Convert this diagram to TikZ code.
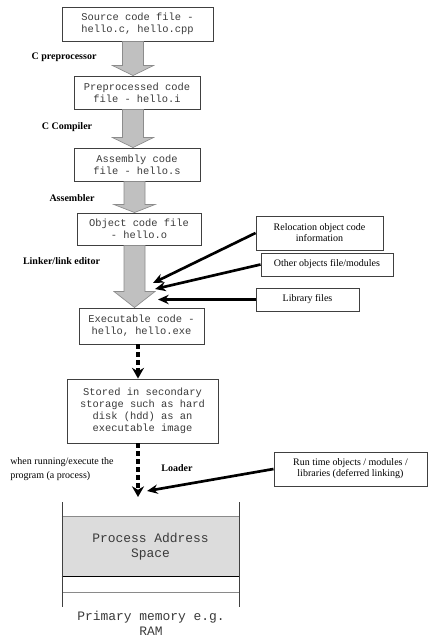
\documentclass[tikz,border=0pt]{standalone}
\usepackage{fontspec}
\setmainfont{Liberation Serif}
\setmonofont{Liberation Mono}
\definecolor{arrowGray}{HTML}{C0C0C0}
\definecolor{arrowEdge}{HTML}{8C8C8C}
\definecolor{spaceGray}{HTML}{DCDCDC}
\definecolor{lineGray}{HTML}{8A8A8A}
\definecolor{monoText}{HTML}{3A3A3A}
\usetikzlibrary{arrows.meta, positioning, calc}

% big gray block arrow: x, upper node, lower node, head length
\newcommand{\blockarrow}[4]{%
  \draw[bigarr] ($(#1,0 |- #2.south)+(-10.5,0)$) -- ($(#1,0 |- #3.north)+(-10.5,-#4)$) -- ++(-10,0)
    -- (#1,0 |- #3.north) -- ($(#1,0 |- #3.north)+(20.5,-#4)$) -- ++(-10,0)
    -- ($(#1,0 |- #2.south)+(10.5,0)$) -- cycle;}

\begin{document}
\begin{tikzpicture}[
    x=0.75pt, y=-0.75pt,
    box/.style={rectangle, draw=black!75, line width=0.7pt, align=center, inner sep=0pt, text=monoText, font=\ttfamily\fontsize{7.8}{9}\selectfont},
    note/.style={rectangle, draw=black!75, line width=0.7pt, align=center, inner sep=0pt, font=\fontsize{7.5}{8.25}\selectfont},
    lbl/.style={font=\bfseries\fontsize{7.5}{10}\selectfont},
    bigarr/.style={fill=arrowGray, draw=arrowEdge, line width=0.5pt},
    arr/.style={-{Stealth[length=8pt,width=7pt]}, line width=2pt},
    dotarr/.style={-{Stealth[length=8pt,width=9pt]}, line width=3.5pt, dash pattern=on 3.5pt off 2.5pt}
]
\useasboundingbox (0,0) rectangle (429,640);

% Compile chain
\node[box, minimum width=113.25pt, minimum height=25.5pt] (src) at (137.5,24) {Source code file -\\hello.c, hello.cpp};
\node[box, minimum width=94.5pt, minimum height=24.75pt] (pre) at (137,92.5) {Preprocessed code\\file - hello.i};
\node[box, minimum width=94.5pt, minimum height=24.75pt] (asm) at (137,164.5) {Assembly code\\file - hello.s};
\node[box, minimum width=93pt, minimum height=24pt] (obj) at (139,229) {Object code file\\ - hello.o};
\node[box, minimum width=93.75pt, minimum height=27pt] (exe) at (141.5,326) {Executable code -\\hello, hello.exe};
\node[box, minimum width=113.25pt, minimum height=48pt] (sto) at (142.5,411) {Stored in secondary\\storage such as hard\\disk (hdd) as an\\executable image};

% Block arrows
\blockarrow{133}{src}{pre}{10}
\blockarrow{133}{pre}{asm}{10}
\blockarrow{134.5}{asm}{obj}{8}
\blockarrow{134.5}{obj}{exe}{16}

% Stage labels
\node[lbl] (lpre) at (64,57) {C preprocessor};
\node[lbl] (lcc) at (67,127) {C Compiler};
\node[lbl] (las) at (72,198) {Assembler};
\node[lbl] (lld) at (61.5,261) {Linker/link editor};
\node[lbl] (lload) at (177,468) {Loader};
\node[font=\fontsize{7.5}{10.5}\selectfont, align=left, anchor=west, inner sep=0pt] (lrun) at (10,469) {when running/execute the\\program (a process)};

% Linker inputs
\node[note, minimum width=95.25pt, minimum height=25.5pt] (reloc) at (319.5,233) {Relocation object code\\information};
\node[note, minimum width=99pt, minimum height=17.25pt] (other) at (327,264.5) {Other objects file/modules};
\node[note, minimum width=77.25pt, minimum height=17.25pt] (lib) at (307.5,299.5) {Library files};
\node[note, minimum width=114.75pt, minimum height=25.5pt] (rt) at (350.5,469) {Run time objects / modules /\\libraries (deferred linking)};

\coordinate (treloc) at (153,283);
\coordinate (tother) at (155,289);
\coordinate (tlib) at (158,299.5);
\coordinate (tload) at (138,497);
\coordinate (trt) at (147,491);

\draw[arr] (reloc.west) -- (treloc);
\draw[arr] (other.west) -- (tother);
\draw[arr] (lib.west) -- (tlib);
\draw[arr] (rt.west) -- (trt);

% Dotted arrows
\draw[dotarr] (138,0 |- exe.south) -- (138,0 |- sto.north);
\draw[dotarr] (138,0 |- sto.south) -- (tload);

% Primary memory
\node[rectangle, fill=spaceGray, minimum width=132.75pt, minimum height=44.25pt, inner sep=0pt, align=center, text=monoText, font=\ttfamily\fontsize{9.7}{11.25}\selectfont] (pas) at (150.5,546.5) {Process Address\\Space};
\draw[lineGray, line width=0.7pt] (pas.north west) -- (pas.north east);
\draw[black, line width=0.7pt] (pas.south west) -- (pas.south east);
\draw[lineGray, line width=0.7pt] (62,592) -- (239,592);
\draw[black!75, line width=0.7pt] (62,502) -- (62,607) (239,502) -- (239,607);
\node[font=\ttfamily\fontsize{9.7}{11.25}\selectfont, text=monoText, align=center] (ram) at (151,623.5) {Primary memory e.g.\\RAM};

\end{tikzpicture}
\end{document}
